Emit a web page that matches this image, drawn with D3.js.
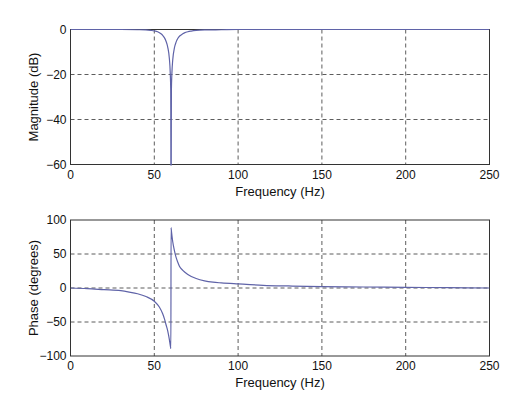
<!DOCTYPE html>
<html>
<head>
<meta charset="utf-8">
<script src="https://cdn.jsdelivr.net/npm/d3@7"></script>
<style>
  body{margin:0;background:#fff;}
  svg{display:block;}
  text{font-family:"Liberation Sans",Arial,Helvetica,sans-serif;fill:#111;}
</style>
</head>
<body>
<svg id="chart" width="520" height="396"></svg>
<script>
"use strict";
//Values (notch filter at 60 Hz)
var freqTicks = [0,50,100,150,200,250];
var magTicks = [0,-20,-40,-60];
var phaseTicks = [100,50,0,-50,-100];

var magFreq = [0,30,40,45,48,50,52,54,55,56,57,58,59,59.5,59.8,60,60.2,60.5,61,62,63,64,65,66,68,70,72,75,80,90,100,250];
var magDb   = [0,0,-0.1,-0.2,-0.4,-0.6,-1.0,-1.9,-2.6,-3.6,-5.2,-7.8,-13,-19,-27,-100,-27,-19.5,-13.5,-8.2,-5.6,-4.0,-3.0,-2.4,-1.5,-1.0,-0.7,-0.4,-0.2,-0.1,0,0];

var phaseFreq = [0,10,20,30,35,40,45,50,53,55,56,57,58,59,59.5,59.9,60,60.2,61,62,63,64,65,67,70,75,80,85,90,100,115,130,150,175,200,225,250];
var phaseDeg  = [0,-1,-2.5,-4,-6,-8.5,-12.5,-19.5,-28,-38,-45,-54,-63,-76,-84,-89,89,84,68,55,45,38,32,26,20,14,10.5,8.5,7.5,6,4,3,2,1.5,1,0.5,0];

var lineColour = "#5f63a8",
    gridColour = "#333";

var svg = d3.select("#chart");
var left = 70.5, right = 489.5;

var x = d3.scaleLinear().domain([0,250]).range([left,right]);

//draw one panel
var drawPanel = function(opts){
    var y = d3.scaleLinear().domain(opts.domain).range([opts.bottom,opts.top]);
    var g = svg.append("g");
    var id = "clip" + opts.name;

    g.append("clipPath").attr("id",id)
        .append("rect")
        .attr("x",left).attr("y",opts.top - 1)
        .attr("width",right - left).attr("height",opts.bottom - opts.top + 2);

    //grid
    g.selectAll("line.vgrid").data(freqTicks.slice(1,-1)).enter()
        .append("line")
        .attr("x1",d=>x(d)).attr("x2",d=>x(d))
        .attr("y1",opts.top).attr("y2",opts.bottom)
        .style("stroke",gridColour).style("stroke-width",0.8)
        .style("stroke-dasharray","4,3");
    g.selectAll("line.hgrid").data(opts.ticks.filter(d=>d!==opts.domain[0] && d!==opts.domain[1])).enter()
        .append("line")
        .attr("x1",left).attr("x2",right)
        .attr("y1",d=>y(d)).attr("y2",d=>y(d))
        .style("stroke",gridColour).style("stroke-width",0.8)
        .style("stroke-dasharray","4,3");

    //box
    g.append("rect")
        .attr("x",left).attr("y",opts.top)
        .attr("width",right - left).attr("height",opts.bottom - opts.top)
        .style("fill","none").style("stroke","#333").style("stroke-width",1);

    //curve
    var pts = opts.xs.map((d,i)=>[d,opts.ys[i]]);
    g.append("path")
        .datum(pts)
        .attr("clip-path","url(#" + id + ")")
        .attr("d",d3.line().x(d=>x(d[0])).y(d=>y(d[1])).curve(d3.curveMonotoneX))
        .style("fill","none").style("stroke",lineColour).style("stroke-width",1.2);

    //tick labels
    g.selectAll("text.xt").data(freqTicks).enter()
        .append("text")
        .attr("x",d=>x(d)).attr("y",opts.bottom + 14)
        .style("text-anchor","middle").style("font-size","12px")
        .text(d=>d);
    g.selectAll("text.yt").data(opts.ticks).enter()
        .append("text")
        .attr("x",left - 4).attr("y",d=>y(d) + 4.3)
        .style("text-anchor","end").style("font-size","12px")
        .text(d=>d < 0 ? "\u2212" + Math.abs(d) : d);

    //axis labels
    g.append("text")
        .attr("x",(left + right) / 2).attr("y",opts.bottom + 31)
        .style("text-anchor","middle").style("font-size","13px")
        .text("Frequency (Hz)");
    g.append("text")
        .attr("transform","translate(37.5," + ((opts.top + opts.bottom) / 2) + ") rotate(-90)")
        .style("text-anchor","middle").style("font-size","13px")
        .text(opts.label);
};

drawPanel({name:"mag",top:29.5,bottom:164.5,domain:[-60,0],ticks:magTicks,
           xs:magFreq,ys:magDb,label:"Magnitude (dB)"});
drawPanel({name:"phase",top:220,bottom:356,domain:[-100,100],ticks:phaseTicks,
           xs:phaseFreq,ys:phaseDeg,label:"Phase (degrees)"});
</script>
</body>
</html>
